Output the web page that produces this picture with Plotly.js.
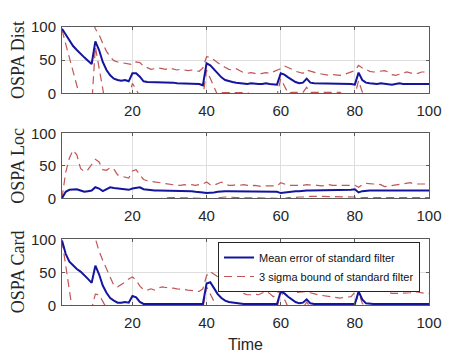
<!DOCTYPE html>
<html>
<head>
<meta charset="utf-8">
<script src="https://cdn.plot.ly/plotly-3.0.1.min.js"></script>
<style>html,body{margin:0;padding:0;background:#fff;}#chart{width:474px;height:355px;}</style>
</head>
<body>
<div id="chart"></div>
<script>
// Time steps
const time = [1,2,3,4,5,6,7,8,9,10,11,12,13,14,15,16,17,18,19,20,
  21,22,23,24,25,26,27,28,29,30,31,32,33,34,35,36,37,38,39,40,
  41,42,43,44,45,46,47,48,49,50,51,52,53,54,55,56,57,58,59,60,
  61,62,63,64,65,66,67,68,69,70,71,72,73,74,75,76,77,78,79,80,
  81,82,83,84,85,86,87,88,89,90,91,92,93,94,95,96,97,98,99,100];

// OSPA Dist
const distMean = [97,88,79,71,65,59,54,49,44,78,
  65,47,35,27,22,20,19,20,18,30,
  30,25,18,17,17,16,16,16,17,16,
  16,15,15,15,14,15,14,14,12,45,
  42,36,29,24,20,18,17,16,15,15,
  14,15,14,14,14,15,14,14,13,30,
  28,24,20,17,15,16,22,16,15,15,
  14,15,14,14,15,14,14,14,14,13,
  31,20,16,15,14,14,15,14,14,13,
  14,15,14,14,14,13,14,14,14,14];
const distUpper = [100,115,125,130,130,128,125,120,112,97,
  88,75,63,55,49,47,46,46,45,43,
  47,46,41,39,36,37,38,37,36,38,
  37,35,36,35,34,35,34,33,38,55,
  54,50,45,42,39,36,35,37,34,31,
  30,31,30,29,30,31,30,32,34,37,
  41,39,36,33,31,30,35,33,31,30,
  29,28,27,28,27,27,28,30,31,34,
  42,38,36,33,32,33,34,34,32,28,
  27,28,30,32,31,29,30,32,32,32];
const distLower = [95,74,52,31,9,-12,-30,-40,-20,70,
  38,5,-25,-30,-20,-12,-8,-6,-5,15,
  6,-4,-8,-6,-6,-5,-5,-5,-5,-5,
  -5,-5,-5,-5,-5,-5,-5,-5,-6,35,
  22,9,-3,1,1,1,1,1,1,1,
  1,-2,-3,-3,-3,-3,-3,-3,-3,22,
  11,0,1.5,1.5,1.5,1.5,9,1.5,1.5,1.5,
  1.5,1.5,1.5,1.5,1.5,1.5,-3,-3,-3,-3,
  19,2,-4,-5,-5,-5,-5,-5,-5,-5,
  -5,-5,-5,-5,-5,-5,-5,-5,-5,-5];

// OSPA Loc
const locMean = [0,10,13,14,14,12,10,11,12,17,
  15,11,14,17,16,15,14,13,13,15,
  16,17,14,13,13,12,12,12,12,11,
  11,11,11,11,11,11,10,10,9,8,
  8,9,10,11,11,11,11,11,11,11,
  11,11,11,11,11,11,11,11,10,8,
  9,10,11,11,11,12,12,12,12,12,
  12,12,12,13,13,13,13,13,13,14,
  9,11,12,12,12,12,12,12,12,12,
  12,12,12,12,12,12,12,12,12,12];
const locUpper = [0,40,62,74,67,46,41,44,52,60,
  56,44,43,47,45,36,34,32,31,42,
  44,36,29,27,26,25,24,23,22,21,
  21,20,20,21,20,21,20,21,22,25,
  21,20,22,25,22,20,20,21,20,21,
  20,19,20,19,18,19,19,18,19,24,
  22,20,20,20,19,20,21,20,20,20,
  19,20,21,20,20,21,20,20,20,20,
  17,21,23,22,22,22,21,18,19,20,
  21,22,22,24,24,22,22,22,22,22];
const locLower = [0,-20,-35,-45,-40,-25,-20,-20,-28,-25,
  -25,-22,-18,-14,-12,-8,-6,-5,-5,-10,
  -10,-6,-3,-2,-2,-1,-1,0,1,1,
  1,1,1,1,1,1,1,1,0,-2,
  -2,0,1,1,2,2,1,1,1,1,
  1,1,1,1,1,1,1,1,0,-2,
  0,1,1,2,2,2,3,3,3,3,
  3,3,3,3,3,3,2,2,2,2,
  -1,1,1,1,1,1,1,1,1,1,
  1,1,1,1,1,1,1,1,1,1];

// OSPA Card
const cardMean = [98,78,66,60,55,51,46,40,34,60,
  47,30,19,11,7,4,4,5,4,14,
  12,5,2,2,3,2,2,3,3,3,
  3,2,3,2,2,2,2,2,2,33,
  35,26,17,11,7,5,4,3,2,2,
  2,2,2,2,2,2,2,2,2,21,
  18,13,9,5,3,4,9,3,2,2,
  2,2,2,2,2,2,2,2,2,2,
  21,9,3,2,2,2,2,2,2,2,
  2,2,2,2,2,2,2,2,2,2];
const cardUpper = [100,130,150,160,160,155,150,140,120,100,
  82,68,55,42,30,28,31,35,40,43,
  38,29,24,23,25,23,26,28,27,27,
  26,25,25,24,23,22,21,21,25,45,
  51,47,43,39,36,29,25,22,20,18,
  16,16,17,16,19,21,18,13,16,28,
  31,27,23,19,20,21,21,19,17,16,
  15,14,13,13,12,11,12,13,13,20,
  33,29,26,23,22,21,21,21,19,18,
  18,18,18,18,19,21,20,18,18,18];
const cardLower = [98,60,20,-15,-40,-50,-50,-40,-5,17,
  16,6,-8,-15,-15,-12,-10,-8,-8,-5,
  -6,-6,-5,-5,-5,-5,-5,-5,-5,-5,
  -5,-5,-5,-5,-5,-5,-5,-5,-5,28,
  18,6,-5,-6,-6,-5,-5,-5,-5,-5,
  -5,-5,-5,-5,-5,-5,-5,-5,-5,22,
  8,-3,-5,-5,-5,-4,5,-3,-5,-5,
  -5,-5,-5,-5,-5,-5,-5,-5,-5,-5,
  20,3,-4,-5,-5,-5,-5,-5,-5,-5,
  -5,-5,-5,-5,-5,-5,-5,-5,-5,-5];

const panelTitles = ['OSPA Dist', 'OSPA Loc', 'OSPA Card'];
const xTicks = [20, 40, 60, 80, 100];
const yTicks = [0, 50, 100];
const meanName = 'Mean error of standard filter';
const boundName = '3 sigma bound of standard filter';

const BLUE = '#14149c';
const RED = '#c05656';
const panels = [
  {mean: distMean, up: distUpper, lo: distLower},
  {mean: locMean, up: locUpper, lo: locLower},
  {mean: cardMean, up: cardUpper, lo: cardLower}
];

const traces = [];
panels.forEach((p, i) => {
  const xa = i === 0 ? 'x' : 'x' + (i + 1);
  const ya = i === 0 ? 'y' : 'y' + (i + 1);
  const last = i === 2;
  const dashLine = {color: RED, width: 1.2, dash: '8px,5px'};
  traces.push({x: time, y: p.up, xaxis: xa, yaxis: ya, type: 'scatter', mode: 'lines',
    line: dashLine, name: boundName, showlegend: last, legendrank: 2, hoverinfo: 'skip'});
  traces.push({x: time, y: p.lo, xaxis: xa, yaxis: ya, type: 'scatter', mode: 'lines',
    line: dashLine, name: boundName, showlegend: false, hoverinfo: 'skip'});
  traces.push({x: time, y: p.mean, xaxis: xa, yaxis: ya, type: 'scatter', mode: 'lines',
    line: {color: BLUE, width: 2}, name: meanName, showlegend: last, legendrank: 1, hoverinfo: 'skip'});
});

const H = 355;
const domains = [
  [1 - 93.3 / H, 1 - 26.7 / H],
  [1 - 198.3 / H, 1 - 133.3 / H],
  [1 - 305.3 / H, 1 - 239.3 / H]
];

const tickFont = {family: 'Liberation Sans, Arial, sans-serif', size: 15, color: '#262626'};
function xAxis(anchor) {
  return {anchor: anchor, range: [1, 100], tickvals: xTicks, showgrid: true, gridcolor: '#dedede',
    showline: true, linecolor: '#5a5a5a', linewidth: 1, mirror: 'ticks', ticks: 'inside', ticklen: 3,
    tickcolor: '#5a5a5a', tickfont: tickFont, zeroline: false, fixedrange: true, ticklabelstandoff: 4};
}
function yAxis(anchor, dom) {
  return {anchor: anchor, domain: dom, range: [0, 100], tickvals: yTicks, showgrid: true, gridcolor: '#dedede',
    showline: true, linecolor: '#5a5a5a', linewidth: 1, mirror: 'ticks', ticks: 'inside', ticklen: 3,
    tickcolor: '#5a5a5a', tickfont: tickFont, zeroline: false, fixedrange: true, ticklabelstandoff: 2};
}

const annotations = panelTitles.map((t, i) => ({
  text: t, xref: 'paper', yref: 'paper', x: (18 - 62) / 367, y: (domains[i][0] + domains[i][1]) / 2,
  xanchor: 'center', yanchor: 'middle', textangle: -90, showarrow: false,
  font: {family: 'Liberation Serif, Times New Roman, serif', size: 18, color: '#262626'}
}));
annotations.push({text: 'Time', xref: 'paper', yref: 'paper', x: 0.5, y: 1 - 344 / H,
  xanchor: 'center', yanchor: 'middle', showarrow: false,
  font: {family: 'Liberation Sans, Arial, sans-serif', size: 16, color: '#262626'}});

const layout = {
  width: 474, height: 355,
  margin: {l: 62, r: 45, t: 0, b: 0},
  paper_bgcolor: '#fff', plot_bgcolor: '#fff',
  showlegend: true,
  legend: {x: (218 - 62) / 367, y: 1 - 242 / H, xanchor: 'left', yanchor: 'top',
    bgcolor: '#fff', bordercolor: '#262626', borderwidth: 1,
    font: {family: 'Liberation Sans, Arial, sans-serif', size: 11, color: '#111'}},
  xaxis: xAxis('y'), yaxis: yAxis('x', domains[0]),
  xaxis2: xAxis('y2'), yaxis2: yAxis('x2', domains[1]),
  xaxis3: xAxis('y3'), yaxis3: yAxis('x3', domains[2]),
  annotations: annotations
};

Plotly.newPlot('chart', traces, layout, {displayModeBar: false, staticPlot: true});
</script>
</body>
</html>
